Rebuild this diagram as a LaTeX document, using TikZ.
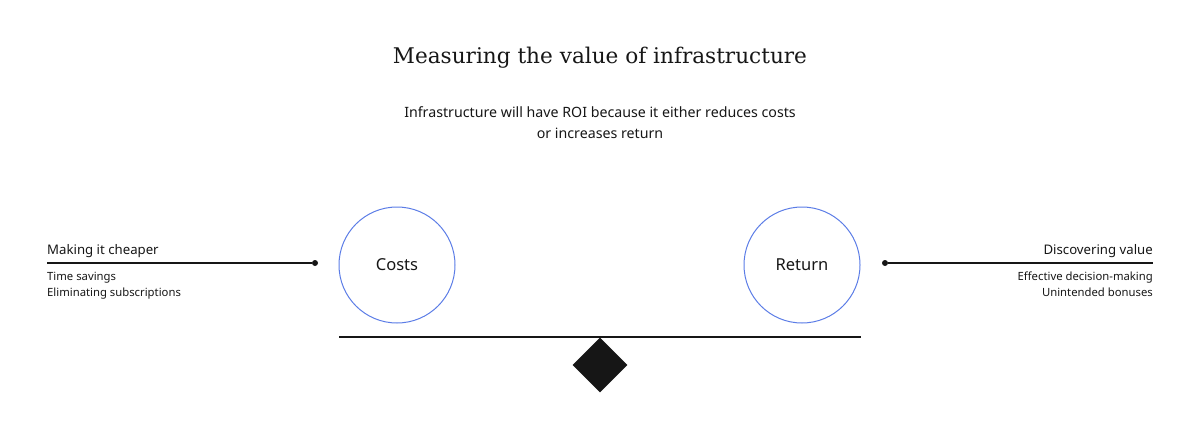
\documentclass[tikz,border=0pt]{standalone}
\usepackage{fontspec}
\setmainfont{Noto Sans}
\newfontfamily\titlefont{DejaVu Serif}
\usetikzlibrary{shapes.geometric}
\definecolor{ink}{HTML}{161616}
\definecolor{ringblue}{HTML}{5B7CE6}
\begin{document}
\begin{tikzpicture}[x=1pt,y=-1pt,
  ring/.style={circle,draw=ringblue,line width=1pt,minimum size=116pt,inner sep=0pt,font=\fontsize{16.5}{18}\selectfont,text=ink},
  head/.style={font=\fontsize{13.2}{15}\selectfont,text=ink,inner sep=0pt},
  item/.style={font=\fontsize{11.3}{15.5}\selectfont,text=ink,inner sep=0pt},
  rule/.style={draw=ink,line width=1.2pt},
  pin/.style={circle,fill=ink,inner sep=0pt,minimum size=6pt}]
\useasboundingbox (0,0) rectangle (1200,439);
\node[font=\titlefont\fontsize{21.6}{25}\selectfont,text=ink] (title) at (600,58) {Measuring the value of infrastructure};
\node[font=\fontsize{14.2}{21}\selectfont,text=ink,align=center] (sub) at (600,123) {Infrastructure will have ROI because it either reduces costs\\or increases return};
\node[ring] (costs) at (397,265) {Costs};
\node[ring] (ret) at (802,265) {Return};
% left
\coordinate (la) at (47,263);
\node[pin] (ldot) at (315,263) {};
\draw[rule] (la) -- (ldot);
\node[head,anchor=base west] (lh) at (47,254) {Making it cheaper};
\node[item,anchor=north west,align=left] (li) at (47,272) {Time savings\\Eliminating subscriptions};
% right
\coordinate (ra) at (1153,263);
\node[pin] (rdot) at (885,263) {};
\draw[rule] (rdot) -- (ra);
\node[head,anchor=base east] (rh) at (1153,254) {Discovering value};
\node[item,anchor=north east,align=right] (ri) at (1153,272) {Effective decision-making\\Unintended bonuses};
% beam
\coordinate (bl) at (339,337);
\coordinate (br) at (861,337);
\draw[draw=ink,line width=2pt] (bl) -- (br);
\node[diamond,fill=ink,minimum size=55pt,inner sep=0pt] (fulcrum) at (600,365) {};
\end{tikzpicture}
\end{document}
